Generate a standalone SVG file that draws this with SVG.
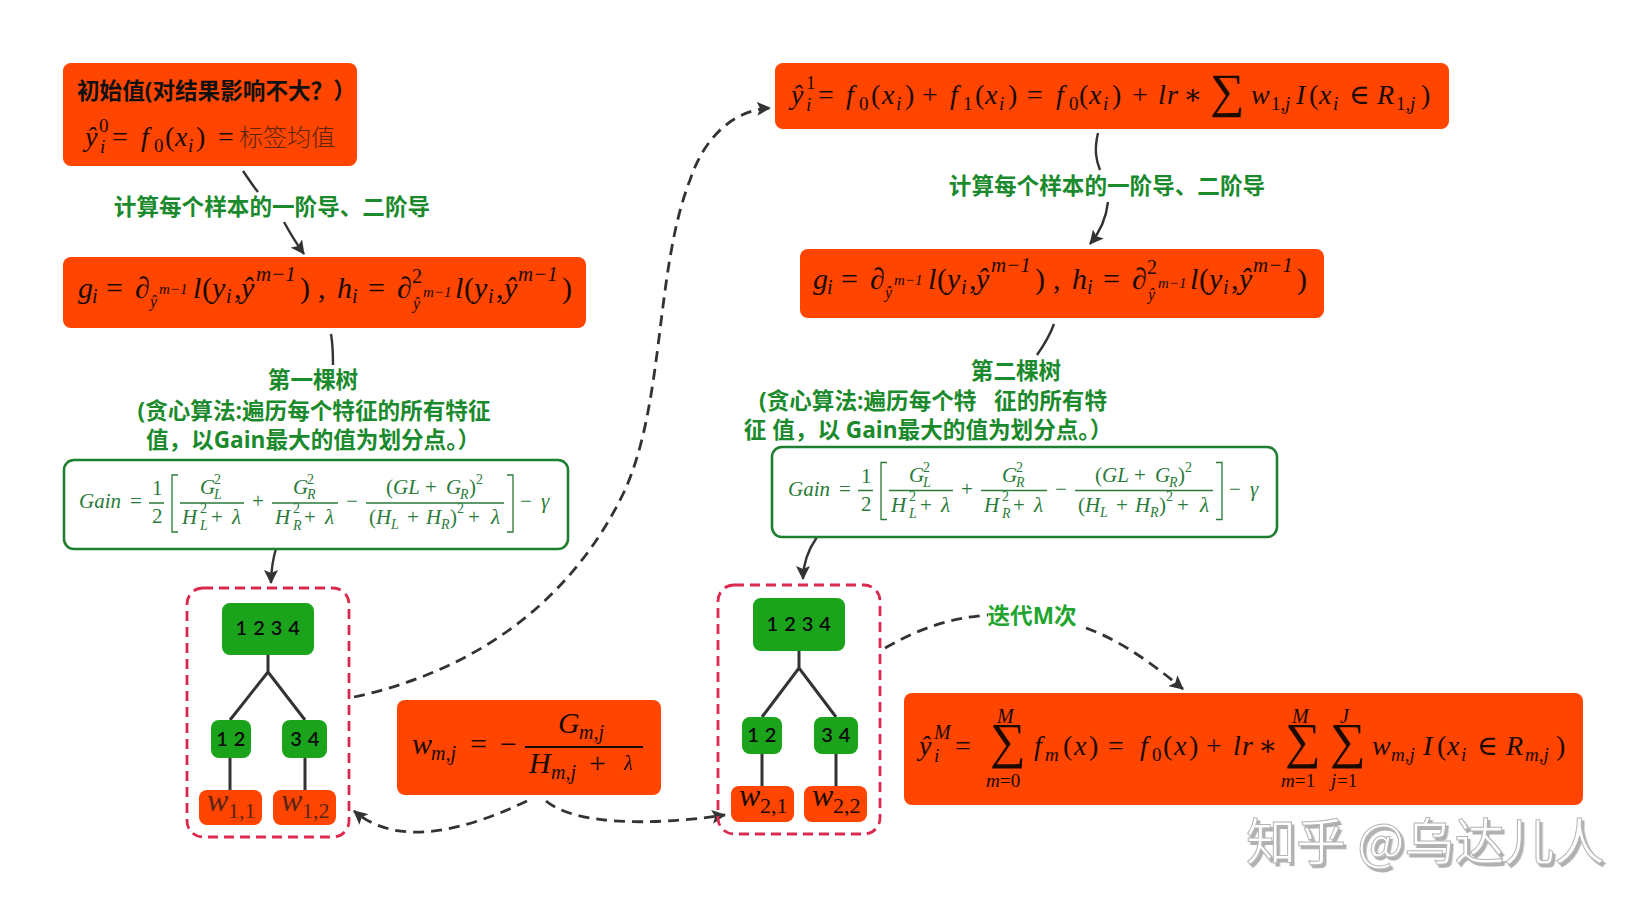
<svg xmlns="http://www.w3.org/2000/svg" width="1646" height="912" viewBox="0 0 1646 912">
<style>
.o{fill:#ff4500}
.gn{fill:#1ba41b}
.gb{fill:#fff;stroke:#1f7f30;stroke-width:2.6}
.rd{fill:none;stroke:#dc2a4e;stroke-width:2.8;stroke-dasharray:10 6}
.s{fill:none;stroke:#333;stroke-width:2.4}
.d{fill:none;stroke:#333;stroke-width:2.8;stroke-dasharray:11 7}
.t{stroke:#333;stroke-width:3;fill:none}
.m{font-family:"Liberation Serif","DejaVu Serif",serif;fill:#1a0a00}
.e{font-family:"Liberation Serif","DejaVu Serif",serif;fill:#2a7a3a}
.i{font-style:italic}
.lb{font-family:"Open Sans","Noto Sans CJK SC",sans-serif;font-weight:700;font-size:22.6px;fill:#1b8a2c;text-anchor:middle}
.num{font-family:"Lato","Noto Sans",sans-serif;font-size:20px;font-weight:600;fill:#0a0a0a;text-anchor:middle;letter-spacing:.5px}
.br{fill:none;stroke:#2a7a3a;stroke-width:1.3}
.bar{stroke:#2a7a3a;stroke-width:1.3}
</style>
<defs>
<marker id="a" markerUnits="userSpaceOnUse" markerWidth="16" markerHeight="14" refX="13" refY="7" orient="auto"><path d="M0 0L14 7L0 14L3 7Z" fill="#333"/></marker>
<filter id="wm" x="-5%" y="-10%" width="110%" height="120%"><feDropShadow dx="2.5" dy="3" stdDeviation="0" flood-color="#b0b0b0"/></filter>
</defs>

<g id="connectors">
<path class="s" d="M243 171C248 178 253 186 258 192"/>
<path class="s" marker-end="url(#a)" d="M284 222C290 233 296 243 304 254"/>
<path class="s" d="M331 334C333 345 333 355 333 365"/>
<path class="s" marker-end="url(#a)" d="M277 545C273 558 271 570 271 583"/>
<path class="d" marker-end="url(#a)" d="M354 697C470 672 570 606 625 490C665 400 655 270 690 180C705 135 735 110 770 108"/>
<path class="d" marker-end="url(#a)" d="M527 801C470 828 400 850 354 811"/>
<path class="d" marker-end="url(#a)" d="M546 801C575 825 650 826 725 815"/>
<path class="d" d="M885 648C920 628 950 618 988 615"/>
<path class="d" marker-end="url(#a)" d="M1086 628C1125 642 1160 670 1183 689"/>
<path class="s" d="M1098 133C1094 150 1096 160 1100 170"/>
<path class="s" marker-end="url(#a)" d="M1108 202C1106 220 1100 232 1090 244"/>
<path class="s" d="M1054 324C1050 335 1044 345 1037 355"/>
<path class="s" marker-end="url(#a)" d="M817 537C808 550 803 565 803 579"/>
<path class="t" d="M268 655V672M230 720L268 672L305 720M230 758V790M305 758V790"/>
<path class="t" d="M799 651V668M762 717L799 668L836 717M762 754V786M836 754V786"/>
</g>

<g id="n-init">
<rect class="o" x="63" y="63" width="294" height="103" rx="8"/>
<text x="77" y="99" font-family="'Open Sans','Noto Sans CJK SC',sans-serif" font-weight="700" font-size="22.6" fill="#111">初始值(对结果影响不大？）</text>
<text class="m" font-size="28"><tspan class="i" x="85" y="146">ŷ</tspan><tspan font-size="19" x="99" y="132">0</tspan><tspan class="i" font-size="19" x="100" y="153">i</tspan><tspan x="112" y="146">=</tspan><tspan class="i" x="141" y="146">f</tspan><tspan font-size="19" x="154" y="152">0</tspan><tspan x="165" y="146">(</tspan><tspan class="i" x="175" y="146">x</tspan><tspan class="i" font-size="19" x="188" y="152">i</tspan><tspan x="196" y="146">)</tspan><tspan x="218" y="146">=</tspan></text>
<text x="239" y="146" font-family="'Noto Sans CJK SC',sans-serif" font-weight="300" font-size="24" fill="#5e2408">标签均值</text>
</g>

<g id="l-grad1"><text class="lb" x="272" y="215">计算每个样本的一阶导、二阶导</text></g>

<g id="n-grad1">
<rect class="o" x="63" y="257" width="523" height="71" rx="8"/>
<text class="m" font-size="30" transform="translate(0,-3)"><tspan class="i" x="78" y="301">g</tspan><tspan class="i" font-size="20" x="92" y="306">i</tspan><tspan x="106" y="301">=</tspan><tspan class="i" x="135" y="301">∂</tspan><tspan class="i" font-size="16" x="150" y="310">ŷ</tspan><tspan class="i" font-size="15" x="159" y="297">m−1</tspan><tspan class="i" x="193" y="301">l</tspan><tspan x="202" y="301">(</tspan><tspan class="i" x="212" y="301">y</tspan><tspan class="i" font-size="20" x="226" y="306">i</tspan><tspan x="234" y="301">,</tspan><tspan class="i" x="241" y="301">ŷ</tspan><tspan class="i" font-size="21" x="256" y="284">m−1</tspan><tspan x="300" y="301">)</tspan><tspan x="318" y="301">,</tspan><tspan class="i" x="337" y="301">h</tspan><tspan class="i" font-size="20" x="352" y="306">i</tspan><tspan x="368" y="301">=</tspan><tspan class="i" x="397" y="301">∂</tspan><tspan font-size="20" x="412" y="286">2</tspan><tspan class="i" font-size="16" x="413" y="312">ŷ</tspan><tspan class="i" font-size="15" x="423" y="300">m−1</tspan><tspan class="i" x="455" y="301">l</tspan><tspan x="464" y="301">(</tspan><tspan class="i" x="474" y="301">y</tspan><tspan class="i" font-size="20" x="488" y="306">i</tspan><tspan x="496" y="301">,</tspan><tspan class="i" x="504" y="301">ŷ</tspan><tspan class="i" font-size="21" x="518" y="284">m−1</tspan><tspan x="562" y="301">)</tspan></text>
</g>

<g id="l-tree1">
<text class="lb" x="313" y="388">第一棵树</text>
<text class="lb" x="314" y="419">(贪心算法:遍历每个特征的所有特征</text>
<text class="lb" x="313" y="448">值，以Gain最大的值为划分点。）</text>
</g>

<g id="n-gain1">
<rect class="gb" x="64" y="460" width="504" height="89" rx="10"/>
<path class="br" d="M178 475H172V532H178M507 475H513V532H507"/>
<path class="bar" d="M149 503H164M180 503H244M272 503H338M366 503H504"/>
<text class="e" font-size="21"><tspan class="i" x="79" y="508">Gain</tspan><tspan x="130" y="508">=</tspan><tspan x="152" y="495">1</tspan><tspan x="152" y="523">2</tspan><tspan class="i" x="200" y="494">G</tspan><tspan font-size="14" x="214" y="484">2</tspan><tspan class="i" font-size="14" x="214" y="499">L</tspan><tspan class="i" x="182" y="524">H</tspan><tspan font-size="14" x="200" y="513">2</tspan><tspan class="i" font-size="14" x="200" y="530">L</tspan><tspan x="211" y="524">+</tspan><tspan class="i" x="232" y="524">λ</tspan><tspan x="252" y="508">+</tspan><tspan class="i" x="293" y="494">G</tspan><tspan font-size="14" x="307" y="484">2</tspan><tspan class="i" font-size="14" x="307" y="499">R</tspan><tspan class="i" x="275" y="524">H</tspan><tspan font-size="14" x="293" y="513">2</tspan><tspan class="i" font-size="14" x="293" y="530">R</tspan><tspan x="304" y="524">+</tspan><tspan class="i" x="325" y="524">λ</tspan><tspan x="346" y="508">−</tspan><tspan x="386" y="494">(</tspan><tspan class="i" x="393" y="494">GL</tspan><tspan x="425" y="494">+</tspan><tspan class="i" x="446" y="494">G</tspan><tspan class="i" font-size="14" x="460" y="499">R</tspan><tspan x="469" y="494">)</tspan><tspan font-size="14" x="476" y="484">2</tspan><tspan x="369" y="524">(</tspan><tspan class="i" x="376" y="524">H</tspan><tspan class="i" font-size="14" x="391" y="529">L</tspan><tspan x="407" y="524">+</tspan><tspan class="i" x="426" y="524">H</tspan><tspan class="i" font-size="14" x="441" y="529">R</tspan><tspan x="450" y="524">)</tspan><tspan font-size="14" x="457" y="513">2</tspan><tspan x="468" y="524">+</tspan><tspan class="i" x="491" y="524">λ</tspan><tspan x="520" y="508">−</tspan><tspan class="i" x="541" y="508">γ</tspan></text>
</g>

<g id="tree1-box"><rect class="rd" x="187" y="588" width="162" height="249" rx="16"/></g>
<g id="t1-root"><rect class="gn" x="222" y="603" width="92" height="52" rx="8"/><text class="num" x="268" y="635">1 2 3 4</text></g>
<g id="t1-l"><rect class="gn" x="211" y="720" width="40" height="38" rx="8"/><text class="num" x="231" y="746">1 2</text></g>
<g id="t1-r"><rect class="gn" x="282" y="720" width="45" height="38" rx="8"/><text class="num" x="305" y="746">3 4</text></g>
<g id="t1-w1"><rect class="o" x="199" y="790" width="63" height="35" rx="8"/><text class="m" style="fill:#5a2412" font-size="32"><tspan class="i" x="207" y="811">w</tspan><tspan font-size="22" x="228" y="818">1,1</tspan></text></g>
<g id="t1-w2"><rect class="o" x="273" y="790" width="63" height="35" rx="8"/><text class="m" style="fill:#5a2412" font-size="32"><tspan class="i" x="281" y="811">w</tspan><tspan font-size="22" x="302" y="818">1,2</tspan></text></g>

<g id="n-w">
<rect class="o" x="397" y="700" width="264" height="95" rx="8"/>
<path d="M525 747H643" stroke="#1a0a00" stroke-width="1.8"/>
<text class="m" font-size="30"><tspan class="i" x="412" y="754">w</tspan><tspan class="i" font-size="20" x="431" y="760">m,j</tspan><tspan x="470" y="754">=</tspan><tspan x="500" y="754">−</tspan><tspan class="i" x="558" y="733">G</tspan><tspan class="i" font-size="20" x="579" y="739">m,j</tspan><tspan class="i" x="529" y="773">H</tspan><tspan class="i" font-size="20" x="551" y="779">m,j</tspan><tspan x="589" y="773">+</tspan><tspan class="i" font-size="20" x="624" y="770">λ</tspan></text>
</g>

<g id="n-y1">
<rect class="o" x="775" y="63" width="674" height="66" rx="8"/>
<text class="m" font-size="28"><tspan class="i" x="791" y="104">ŷ</tspan><tspan font-size="19" x="806" y="89">1</tspan><tspan class="i" font-size="19" x="806" y="111">i</tspan><tspan x="818" y="104">=</tspan><tspan class="i" x="846" y="104">f</tspan><tspan font-size="19" x="859" y="110">0</tspan><tspan x="871" y="104">(</tspan><tspan class="i" x="882" y="104">x</tspan><tspan class="i" font-size="19" x="896" y="110">i</tspan><tspan x="905" y="104">)</tspan><tspan x="922" y="104">+</tspan><tspan class="i" x="950" y="104">f</tspan><tspan font-size="19" x="963" y="110">1</tspan><tspan x="975" y="104">(</tspan><tspan class="i" x="985" y="104">x</tspan><tspan class="i" font-size="19" x="999" y="110">i</tspan><tspan x="1008" y="104">)</tspan><tspan x="1027" y="104">=</tspan><tspan class="i" x="1056" y="104">f</tspan><tspan font-size="19" x="1069" y="110">0</tspan><tspan x="1079" y="104">(</tspan><tspan class="i" x="1089" y="104">x</tspan><tspan class="i" font-size="19" x="1103" y="110">i</tspan><tspan x="1112" y="104">)</tspan><tspan x="1132" y="104">+</tspan><tspan class="i" x="1158" y="104">l</tspan><tspan class="i" x="1167" y="104">r</tspan><tspan x="1183" y="104">∗</tspan><tspan font-size="48" x="1210" y="107">∑</tspan><tspan class="i" x="1251" y="104">w</tspan><tspan font-size="19" x="1271" y="110">1,</tspan><tspan class="i" font-size="19" x="1285" y="110">j</tspan><tspan class="i" x="1296" y="104">I</tspan><tspan x="1309" y="104">(</tspan><tspan class="i" x="1319" y="104">x</tspan><tspan class="i" font-size="19" x="1333" y="110">i</tspan><tspan x="1349" y="104">∈</tspan><tspan class="i" x="1377" y="104">R</tspan><tspan font-size="19" x="1396" y="110">1,</tspan><tspan class="i" font-size="19" x="1410" y="110">j</tspan><tspan x="1421" y="104">)</tspan></text>
</g>

<g id="l-grad2"><text class="lb" x="1107" y="194">计算每个样本的一阶导、二阶导</text></g>

<g id="n-grad2">
<rect class="o" x="800" y="249" width="524" height="69" rx="8"/>
<text class="m" font-size="30" transform="translate(735,-12.5)"><tspan class="i" x="78" y="301">g</tspan><tspan class="i" font-size="20" x="92" y="306">i</tspan><tspan x="106" y="301">=</tspan><tspan class="i" x="135" y="301">∂</tspan><tspan class="i" font-size="16" x="150" y="310">ŷ</tspan><tspan class="i" font-size="15" x="159" y="297">m−1</tspan><tspan class="i" x="193" y="301">l</tspan><tspan x="202" y="301">(</tspan><tspan class="i" x="212" y="301">y</tspan><tspan class="i" font-size="20" x="226" y="306">i</tspan><tspan x="234" y="301">,</tspan><tspan class="i" x="241" y="301">ŷ</tspan><tspan class="i" font-size="21" x="256" y="284">m−1</tspan><tspan x="300" y="301">)</tspan><tspan x="318" y="301">,</tspan><tspan class="i" x="337" y="301">h</tspan><tspan class="i" font-size="20" x="352" y="306">i</tspan><tspan x="368" y="301">=</tspan><tspan class="i" x="397" y="301">∂</tspan><tspan font-size="20" x="412" y="286">2</tspan><tspan class="i" font-size="16" x="413" y="312">ŷ</tspan><tspan class="i" font-size="15" x="423" y="300">m−1</tspan><tspan class="i" x="455" y="301">l</tspan><tspan x="464" y="301">(</tspan><tspan class="i" x="474" y="301">y</tspan><tspan class="i" font-size="20" x="488" y="306">i</tspan><tspan x="496" y="301">,</tspan><tspan class="i" x="504" y="301">ŷ</tspan><tspan class="i" font-size="21" x="518" y="284">m−1</tspan><tspan x="562" y="301">)</tspan></text>
</g>

<g id="l-tree2">
<text class="lb" x="1016" y="379">第二棵树</text>
<text class="lb" x="933" y="409" xml:space="preserve">(贪心算法:遍历每个特   征的所有特</text>
<text class="lb" x="928" y="438">征 值，以 Gain最大的值为划分点。）</text>
</g>

<g id="n-gain2">
<rect class="gb" x="772" y="447" width="505" height="90" rx="10"/>
<g transform="translate(709,-12.5)">
<path class="br" d="M178 475H172V532H178M507 475H513V532H507"/>
<path class="bar" d="M149 503H164M180 503H244M272 503H338M366 503H504"/>
<text class="e" font-size="21"><tspan class="i" x="79" y="508">Gain</tspan><tspan x="130" y="508">=</tspan><tspan x="152" y="495">1</tspan><tspan x="152" y="523">2</tspan><tspan class="i" x="200" y="494">G</tspan><tspan font-size="14" x="214" y="484">2</tspan><tspan class="i" font-size="14" x="214" y="499">L</tspan><tspan class="i" x="182" y="524">H</tspan><tspan font-size="14" x="200" y="513">2</tspan><tspan class="i" font-size="14" x="200" y="530">L</tspan><tspan x="211" y="524">+</tspan><tspan class="i" x="232" y="524">λ</tspan><tspan x="252" y="508">+</tspan><tspan class="i" x="293" y="494">G</tspan><tspan font-size="14" x="307" y="484">2</tspan><tspan class="i" font-size="14" x="307" y="499">R</tspan><tspan class="i" x="275" y="524">H</tspan><tspan font-size="14" x="293" y="513">2</tspan><tspan class="i" font-size="14" x="293" y="530">R</tspan><tspan x="304" y="524">+</tspan><tspan class="i" x="325" y="524">λ</tspan><tspan x="346" y="508">−</tspan><tspan x="386" y="494">(</tspan><tspan class="i" x="393" y="494">GL</tspan><tspan x="425" y="494">+</tspan><tspan class="i" x="446" y="494">G</tspan><tspan class="i" font-size="14" x="460" y="499">R</tspan><tspan x="469" y="494">)</tspan><tspan font-size="14" x="476" y="484">2</tspan><tspan x="369" y="524">(</tspan><tspan class="i" x="376" y="524">H</tspan><tspan class="i" font-size="14" x="391" y="529">L</tspan><tspan x="407" y="524">+</tspan><tspan class="i" x="426" y="524">H</tspan><tspan class="i" font-size="14" x="441" y="529">R</tspan><tspan x="450" y="524">)</tspan><tspan font-size="14" x="457" y="513">2</tspan><tspan x="468" y="524">+</tspan><tspan class="i" x="491" y="524">λ</tspan><tspan x="520" y="508">−</tspan><tspan class="i" x="541" y="508">γ</tspan></text>
</g>
</g>

<g id="tree2-box"><rect class="rd" x="718" y="585" width="162" height="249" rx="16"/></g>
<g id="t2-root"><rect class="gn" x="753" y="598" width="92" height="53" rx="8"/><text class="num" x="799" y="631">1 2 3 4</text></g>
<g id="t2-l"><rect class="gn" x="742" y="717" width="40" height="37" rx="8"/><text class="num" x="762" y="742">1 2</text></g>
<g id="t2-r"><rect class="gn" x="814" y="717" width="44" height="37" rx="8"/><text class="num" x="836" y="742">3 4</text></g>
<g id="t2-w1"><rect class="o" x="731" y="786" width="63" height="36" rx="8"/><text class="m" font-size="32"><tspan class="i" x="739" y="806">w</tspan><tspan font-size="22" x="760" y="813">2,1</tspan></text></g>
<g id="t2-w2"><rect class="o" x="804" y="786" width="63" height="36" rx="8"/><text class="m" font-size="32"><tspan class="i" x="812" y="806">w</tspan><tspan font-size="22" x="833" y="813">2,2</tspan></text></g>

<g id="l-iter"><text x="1032" y="624" font-family="'Open Sans','Noto Sans CJK SC',sans-serif" font-weight="700" font-size="22.6" fill="#1fa52f" text-anchor="middle">迭代M次</text></g>

<g id="n-final">
<rect class="o" x="904" y="693" width="679" height="112" rx="8"/>
<text class="m" font-size="28"><tspan class="i" x="919" y="755">ŷ</tspan><tspan class="i" font-size="20" x="934" y="739">M</tspan><tspan class="i" font-size="19" x="934" y="762">i</tspan><tspan x="955" y="755">=</tspan><tspan class="i" font-size="20" x="997" y="723">M</tspan><tspan font-size="50" x="990" y="758">∑</tspan><tspan class="i" font-size="19" x="986" y="787">m</tspan><tspan font-size="19" x="1000" y="787">=0</tspan><tspan class="i" x="1034" y="755">f</tspan><tspan class="i" font-size="19" x="1045" y="761">m</tspan><tspan x="1063" y="755">(</tspan><tspan class="i" x="1074" y="755">x</tspan><tspan x="1089" y="755">)</tspan><tspan x="1108" y="755">=</tspan><tspan class="i" x="1140" y="755">f</tspan><tspan font-size="19" x="1152" y="761">0</tspan><tspan x="1163" y="755">(</tspan><tspan class="i" x="1174" y="755">x</tspan><tspan x="1189" y="755">)</tspan><tspan x="1206" y="755">+</tspan><tspan class="i" x="1233" y="755">l</tspan><tspan class="i" x="1242" y="755">r</tspan><tspan x="1258" y="755">∗</tspan><tspan class="i" font-size="20" x="1292" y="723">M</tspan><tspan font-size="50" x="1285" y="758">∑</tspan><tspan class="i" font-size="19" x="1281" y="787">m</tspan><tspan font-size="19" x="1295" y="787">=1</tspan><tspan class="i" font-size="20" x="1340" y="723">J</tspan><tspan font-size="50" x="1330" y="758">∑</tspan><tspan class="i" font-size="19" x="1331" y="787">j</tspan><tspan font-size="19" x="1337" y="787">=1</tspan><tspan class="i" x="1372" y="755">w</tspan><tspan class="i" font-size="19" x="1391" y="761">m,j</tspan><tspan class="i" x="1423" y="755">I</tspan><tspan x="1437" y="755">(</tspan><tspan class="i" x="1447" y="755">x</tspan><tspan class="i" font-size="19" x="1461" y="761">i</tspan><tspan x="1477" y="755">∈</tspan><tspan class="i" x="1506" y="755">R</tspan><tspan class="i" font-size="19" x="1525" y="761">m,j</tspan><tspan x="1556" y="755">)</tspan></text>
</g>

<g id="watermark"><text x="1246" y="860" font-family="'Noto Sans CJK SC',sans-serif" font-size="50" fill="#fff" stroke="#b5b5b5" stroke-width="1" filter="url(#wm)">知乎 @乌达儿人</text></g>
</svg>
